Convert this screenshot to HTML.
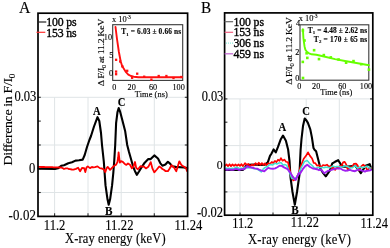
<!DOCTYPE html>
<html><head><meta charset="utf-8"><style>
html,body{margin:0;padding:0;background:#fff;width:390px;height:248px;overflow:hidden}
svg{display:block;filter:blur(0.3px);font-family:"Liberation Serif",serif}
text{stroke:#000;stroke-width:0.12px}
</style></head><body>
<svg width="390" height="248" viewBox="0 0 390 248">
<rect width="390" height="248" fill="#fff"/>
<text transform="translate(18.9,12.8) scale(1,1.08)" font-size="15.8" text-anchor="start" font-weight="normal" >A</text>
<line x1="54.6" y1="97.3" x2="54.6" y2="216" stroke="#dfe4e6" stroke-width="1"/>
<line x1="88.0" y1="97.3" x2="88.0" y2="216" stroke="#dfe4e6" stroke-width="1"/>
<line x1="121.2" y1="97.3" x2="121.2" y2="216" stroke="#dfe4e6" stroke-width="1"/>
<line x1="154.3" y1="97.3" x2="154.3" y2="216" stroke="#dfe4e6" stroke-width="1"/>
<line x1="38" y1="97.3" x2="187.6" y2="97.3" stroke="#dfe4e6" stroke-width="1"/>
<line x1="38" y1="145.0" x2="187.6" y2="145.0" stroke="#dfe4e6" stroke-width="1"/>
<line x1="38" y1="192.5" x2="187.6" y2="192.5" stroke="#dfe4e6" stroke-width="1"/>
<line x1="38" y1="97.3" x2="40.8" y2="97.3" stroke="#333" stroke-width="1.1"/>
<line x1="38" y1="121.1" x2="40.8" y2="121.1" stroke="#333" stroke-width="1.1"/>
<line x1="38" y1="145.0" x2="40.8" y2="145.0" stroke="#333" stroke-width="1.1"/>
<line x1="38" y1="168.7" x2="40.8" y2="168.7" stroke="#333" stroke-width="1.1"/>
<line x1="38" y1="192.5" x2="40.8" y2="192.5" stroke="#333" stroke-width="1.1"/>
<line x1="187.6" y1="97.3" x2="184.8" y2="97.3" stroke="#333" stroke-width="1.1"/>
<line x1="187.6" y1="145.0" x2="184.8" y2="145.0" stroke="#333" stroke-width="1.1"/>
<line x1="187.6" y1="192.5" x2="184.8" y2="192.5" stroke="#333" stroke-width="1.1"/>
<line x1="54.6" y1="216" x2="54.6" y2="213.2" stroke="#333" stroke-width="1.1"/>
<line x1="88.0" y1="216" x2="88.0" y2="213.2" stroke="#333" stroke-width="1.1"/>
<line x1="121.2" y1="216" x2="121.2" y2="213.2" stroke="#333" stroke-width="1.1"/>
<line x1="154.3" y1="216" x2="154.3" y2="213.2" stroke="#333" stroke-width="1.1"/>
<polyline points="38.5,168.8 55.0,168.9 58.0,168.3 61.2,165.8 64.0,165.2 68.3,163.2 72.0,162.3 75.5,160.6 79.0,160.2 82.7,159.6 84.7,155.0 87.0,147.0 89.4,140.0 91.0,136.0 94.0,126.5 97.5,117.2 99.3,121.0 101.0,133.0 102.0,145.0 103.8,161.5 105.5,185.2 107.5,199.3 108.7,204.8 110.1,199.3 112.1,185.2 113.3,173.0 114.3,160.0 115.2,145.0 116.1,123.2 117.5,112.0 118.7,108.1 120.2,112.0 122.1,119.2 125.2,131.3 127.2,145.0 129.0,152.0 131.0,159.0 133.4,167.5 135.0,171.2 136.8,174.8 139.0,171.5 141.0,168.1 144.7,162.7 148.3,159.1 150.7,159.1 154.3,155.4 158.0,158.5 160.4,163.3 162.4,165.7 165.4,164.5 167.9,161.8 170.3,163.9 172.1,166.3 175.7,166.9 184.2,167.5 187.2,168.1" fill="none" stroke="#000" stroke-width="2.1" stroke-linejoin="round" stroke-linecap="round" />
<polyline points="38.5,166.9 39.9,166.9 41.2,167.0 42.6,167.0 44.0,167.0 45.4,167.1 46.8,167.1 48.1,167.1 49.5,167.2 50.9,167.2 52.2,167.2 53.6,167.3 55.0,167.3 56.5,167.4 58.1,167.4 59.7,167.5 61.2,167.5 62.6,168.1 64.0,169.0 65.7,168.4 67.3,168.3 68.7,169.0 70.0,169.1 71.8,169.5 73.5,169.6 76.0,168.9 78.1,167.8 80.1,171.2 82.0,168.0 84.2,168.2 85.3,172.1 86.5,167.5 87.8,166.4 90.0,168.1 91.9,167.0 93.5,167.3 95.0,167.1 97.5,166.4 99.8,168.1 102.0,168.5 104.0,169.6 105.3,172.1 106.5,168.4 107.7,166.9 110.1,169.9 112.0,167.9 114.3,165.7 116.0,164.7 117.4,162.1 118.2,157.2 118.6,152.3 119.2,157.7 119.8,162.7 121.0,161.1 122.8,161.9 124.5,163.7 126.4,164.9 128.0,163.5 130.0,164.8 131.9,168.2 133.5,166.3 135.0,162.0 136.2,167.9 138.0,169.2 140.4,166.2 141.9,166.7 143.5,166.3 145.9,168.4 148.3,166.8 150.7,162.1 152.5,168.7 154.3,172.3 156.8,169.5 159.2,166.5 160.5,167.2 162.4,169.0 163.9,169.8 165.4,171.0 167.9,171.2 169.7,168.5 171.5,165.2 173.9,167.2 176.3,171.3 178.1,165.2 179.3,161.3 181.2,164.7 182.7,166.1 184.2,166.8 186.0,168.3 187.0,171.0" fill="none" stroke="#ff0000" stroke-width="1.8" stroke-linejoin="round" stroke-linecap="round" />
<text transform="translate(96.7,115.4) scale(1,1.1)" font-size="10.6" text-anchor="middle" font-weight="bold" >A</text>
<text transform="translate(121.5,106.0) scale(1,1.1)" font-size="10.6" text-anchor="middle" font-weight="bold" >C</text>
<text transform="translate(108.8,214.9) scale(1,1.1)" font-size="11.2" text-anchor="middle" font-weight="bold" >B</text>
<rect x="38" y="13.2" width="149.6" height="203.2" fill="none" stroke="#000" stroke-width="1.7"/>
<line x1="38" y1="22" x2="46.3" y2="22" stroke="#222" stroke-width="1.2"/>
<line x1="36.5" y1="32.3" x2="45.3" y2="32.3" stroke="#ff3030" stroke-width="1.2"/>
<text transform="translate(46.3,25.8) scale(1,1.1)" font-size="11.8" text-anchor="start" font-weight="normal" textLength="30.2" lengthAdjust="spacing" style="stroke-width:0.35px">100 ps</text>
<text transform="translate(46.3,36.8) scale(1,1.1)" font-size="11.8" text-anchor="start" font-weight="normal" textLength="30.2" lengthAdjust="spacing" style="stroke-width:0.35px">153 ns</text>
<text transform="translate(36.2,101.4) scale(1,1.1)" font-size="12.6" text-anchor="end" font-weight="normal" textLength="21.6" lengthAdjust="spacing" >0.03</text>
<text transform="translate(35.4,172.9) scale(1,1.1)" font-size="12.6" text-anchor="end" font-weight="normal" >0</text>
<text transform="translate(35.9,219.9) scale(1,1.1)" font-size="12.9" text-anchor="end" font-weight="normal" textLength="27.3" lengthAdjust="spacing" >-0.02</text>
<text transform="translate(54.6,229.7) scale(1,1.1)" font-size="12.6" text-anchor="middle" font-weight="normal" textLength="21.5" lengthAdjust="spacing" >11.2</text>
<text transform="translate(119.3,229.6) scale(1,1.1)" font-size="12.6" text-anchor="middle" font-weight="normal" textLength="28.3" lengthAdjust="spacing" >11.22</text>
<text transform="translate(188.4,229.7) scale(1,1.1)" font-size="12.6" text-anchor="middle" font-weight="normal" textLength="27.6" lengthAdjust="spacing" >11.24</text>
<text transform="translate(115.3,243.4) scale(1,1.1)" font-size="12.5" text-anchor="middle" font-weight="normal" textLength="100.5" lengthAdjust="spacing" >X-ray energy (keV)</text>
<text transform="translate(11.9,119.5) rotate(-90) scale(1.1,1)" font-size="12.6" text-anchor="middle" textLength="83.5" lengthAdjust="spacing">Difference in F/I<tspan font-size="8.5" dy="3">0</tspan></text>
<rect x="112.7" y="24.7" width="70.0" height="55.7" fill="#fff" stroke="#383838" stroke-width="1.1"/>
<polyline points="115.5,27.0 117.0,39.0 118.9,52.0 120.7,61.5 122.0,65.5 124.0,69.1 126.0,72.2 128.3,74.6 131.0,76.0 133.7,76.7 138.5,77.2 150.0,77.3 182.0,77.3" fill="none" stroke="#ff1010" stroke-width="1.9" stroke-linejoin="round" stroke-linecap="round" />
<rect x="114.95" y="58.65" width="2.3" height="2.3" fill="#ff1010"/>
<rect x="114.95" y="70.45" width="2.3" height="2.3" fill="#ff1010"/>
<rect x="114.95" y="73.05" width="2.3" height="2.3" fill="#ff1010"/>
<rect x="119.05" y="60.35" width="2.3" height="2.3" fill="#ff1010"/>
<rect x="121.15" y="65.25" width="2.3" height="2.3" fill="#ff1010"/>
<rect x="126.05" y="69.65" width="2.3" height="2.3" fill="#ff1010"/>
<rect x="130.95" y="76.65" width="2.3" height="2.3" fill="#ff1010"/>
<rect x="136.05" y="72.55" width="2.3" height="2.3" fill="#ff1010"/>
<rect x="143.05" y="75.55" width="2.3" height="2.3" fill="#ff1010"/>
<rect x="150.25" y="78.45" width="2.3" height="2.3" fill="#ff1010"/>
<rect x="157.55" y="74.85" width="2.3" height="2.3" fill="#ff1010"/>
<rect x="165.25" y="74.85" width="2.3" height="2.3" fill="#ff1010"/>
<rect x="172.35" y="76.85" width="2.3" height="2.3" fill="#ff1010"/>
<rect x="180.05" y="75.85" width="2.3" height="2.3" fill="#ff1010"/>
<text transform="translate(107.9,40.2) scale(1,1.1)" font-size="8.2" text-anchor="middle" font-weight="normal" >10</text>
<text transform="translate(111.4,58.1) scale(1,1.1)" font-size="8.2" text-anchor="middle" font-weight="normal" >5</text>
<text transform="translate(111.0,76.1) scale(1,1.1)" font-size="8.2" text-anchor="middle" font-weight="normal" >0</text>
<text transform="translate(114.4,89.5) scale(1,1.1)" font-size="8.2" text-anchor="middle" font-weight="normal" >0</text>
<text transform="translate(131.7,89.5) scale(1,1.1)" font-size="8.2" text-anchor="middle" font-weight="normal" >20</text>
<text transform="translate(153.1,89.5) scale(1,1.1)" font-size="8.2" text-anchor="middle" font-weight="normal" >60</text>
<text transform="translate(178.6,89.5) scale(1,1.1)" font-size="8.2" text-anchor="middle" font-weight="normal" >100</text>
<text transform="translate(151.3,96.8) scale(1,1.1)" font-size="8.4" text-anchor="middle" font-weight="normal" textLength="33" lengthAdjust="spacing" >Time (ns)</text>
<text transform="translate(112,22.2) scale(1,1.1)" font-size="8.4" text-anchor="start" font-weight="normal" >x 10<tspan font-size="5" dy="-3.3">-3</tspan></text>
<text transform="translate(121.3,33.9) scale(1,1.0)" font-size="7.4" text-anchor="start" font-weight="bold" textLength="59.8" lengthAdjust="spacing" >T<tspan font-size="4.8" dy="1.6">1</tspan><tspan dy="-1.6"> = 6.03 ± 0.66 ns</tspan></text>
<text transform="translate(104.4,52.4) rotate(-90) scale(1.1,1)" font-size="9.0" text-anchor="middle" textLength="61.5" lengthAdjust="spacing">Δ F/I<tspan font-size="6" dy="2">0</tspan><tspan dy="-2"> at 11.2 KeV</tspan></text>
<text transform="translate(200.9,12.8) scale(1,1.08)" font-size="15.3" text-anchor="start" font-weight="normal" >B</text>
<line x1="240.0" y1="98.9" x2="240.0" y2="215.2" stroke="#dfe4e6" stroke-width="1"/>
<line x1="273.0" y1="98.9" x2="273.0" y2="215.2" stroke="#dfe4e6" stroke-width="1"/>
<line x1="306.2" y1="98.9" x2="306.2" y2="215.2" stroke="#dfe4e6" stroke-width="1"/>
<line x1="339.3" y1="98.9" x2="339.3" y2="215.2" stroke="#dfe4e6" stroke-width="1"/>
<line x1="224.6" y1="98.9" x2="372.8" y2="98.9" stroke="#dfe4e6" stroke-width="1"/>
<line x1="224.6" y1="145.6" x2="372.8" y2="145.6" stroke="#dfe4e6" stroke-width="1"/>
<line x1="224.6" y1="191.9" x2="372.8" y2="191.9" stroke="#dfe4e6" stroke-width="1"/>
<line x1="224.6" y1="98.9" x2="227.4" y2="98.9" stroke="#333" stroke-width="1.1"/>
<line x1="224.6" y1="122.2" x2="227.4" y2="122.2" stroke="#333" stroke-width="1.1"/>
<line x1="224.6" y1="145.6" x2="227.4" y2="145.6" stroke="#333" stroke-width="1.1"/>
<line x1="224.6" y1="168.8" x2="227.4" y2="168.8" stroke="#333" stroke-width="1.1"/>
<line x1="224.6" y1="191.9" x2="227.4" y2="191.9" stroke="#333" stroke-width="1.1"/>
<line x1="372.8" y1="98.9" x2="370.0" y2="98.9" stroke="#333" stroke-width="1.1"/>
<line x1="372.8" y1="145.6" x2="370.0" y2="145.6" stroke="#333" stroke-width="1.1"/>
<line x1="372.8" y1="191.9" x2="370.0" y2="191.9" stroke="#333" stroke-width="1.1"/>
<line x1="240.0" y1="215.2" x2="240.0" y2="212.4" stroke="#333" stroke-width="1.1"/>
<line x1="273.0" y1="215.2" x2="273.0" y2="212.4" stroke="#333" stroke-width="1.1"/>
<line x1="306.2" y1="215.2" x2="306.2" y2="212.4" stroke="#333" stroke-width="1.1"/>
<line x1="339.3" y1="215.2" x2="339.3" y2="212.4" stroke="#333" stroke-width="1.1"/>
<polyline points="225.0,169.9 243.0,169.9 246.0,166.0 248.7,164.7 254.8,164.5 259.3,165.0 264.5,164.8 267.8,162.4 270.0,155.9 271.4,153.7 273.6,149.4 275.8,152.3 277.9,147.2 280.8,139.2 283.0,135.6 285.9,140.7 288.1,149.4 289.5,161.0 290.5,177.3 292.5,192.0 294.8,204.8 297.0,192.0 299.4,175.0 300.6,150.0 301.5,139.0 303.0,126.1 304.7,118.5 306.5,120.5 307.9,122.9 310.3,129.4 311.9,137.4 313.5,148.0 314.5,149.7 316.1,151.3 319.4,164.2 320.2,168.2 322.6,172.3 325.8,176.3 329.8,170.6 332.3,163.4 335.0,161.8 338.2,160.2 342.3,166.6 347.9,166.6 355.2,165.8 358.0,169.0 360.8,173.1 365.6,165.8 369.7,164.2 371.5,169.0" fill="none" stroke="#000" stroke-width="2.1" stroke-linejoin="round" stroke-linecap="round" />
<polyline points="225.0,166.0 226.5,164.3 228.0,166.2 229.5,164.2 231.0,166.1 232.5,164.4 234.0,165.8 235.5,164.5 237.0,165.8 238.5,164.5 240.0,165.8 241.5,164.2 243.0,166.1 245.0,163.1 246.7,164.9 248.3,163.9 250.0,166.4 251.8,164.5 253.7,165.4 255.5,163.2 257.3,164.7 258.8,162.7 260.3,164.9 261.9,163.1 263.4,164.8 264.9,163.3 266.4,165.2 268.2,163.3 270.0,163.9 271.8,162.0 273.3,163.1 274.9,160.9 276.4,162.1 278.0,159.7 279.5,160.8 280.9,158.1 282.6,160.7 284.3,159.6 286.0,161.8 288.0,162.3 290.8,174.8 293.2,180.4 296.0,179.0 298.9,172.5 301.0,165.6 303.7,158.7 306.0,155.8 308.0,152.3 310.0,155.9 312.1,158.5 313.7,162.9 315.3,163.2 317.2,165.7 319.1,165.2 321.0,167.2 323.0,165.0 325.0,165.5 327.0,164.7 329.0,166.8 330.5,165.9 332.0,168.5 333.5,167.3 335.0,169.9 336.7,167.5 338.3,168.3 340.0,165.8 341.6,165.8 343.1,162.4 344.7,161.8 346.3,164.7 347.9,170.3 349.9,167.2 352.0,166.9 354.0,163.8 356.0,163.6 357.6,165.3 359.2,170.5 361.2,166.3 363.2,164.7 365.2,166.2 367.3,170.4 369.3,168.0 371.3,168.2" fill="none" stroke="#ff0000" stroke-width="1.7" stroke-linejoin="round" stroke-linecap="round" />
<polyline points="225.0,168.1 226.8,168.3 228.6,168.4 230.5,168.7 232.3,168.3 234.1,168.7 235.9,167.1 237.7,167.8 239.5,168.7 241.4,168.2 243.2,168.6 245.0,167.2 247.5,167.9 250.0,167.5 252.5,168.3 255.0,168.6 258.0,169.6 261.3,171.8 263.1,169.2 265.0,167.5 267.5,166.4 270.0,164.4 272.5,165.0 275.0,163.3 277.0,164.0 279.0,163.0 281.0,162.6 282.9,165.0 284.9,164.6 286.8,165.5 289.0,170.9 291.6,178.0 294.8,179.3 298.0,174.8 301.3,167.7 304.5,161.4 307.3,160.5 310.0,163.8 312.2,165.5 314.5,168.2 316.3,168.3 318.2,167.4 320.0,167.8 322.1,167.5 324.2,167.6 326.1,167.2 328.1,167.4 330.0,167.7 332.5,166.1 335.0,166.8 337.5,166.5 340.0,166.7 342.5,167.0 345.0,165.8 347.5,166.6 350.0,168.0 352.5,167.6 355.0,165.7 357.5,168.1 360.0,167.1 362.5,167.7 365.0,167.1 367.0,166.1 369.0,168.0 371.0,168.0" fill="none" stroke="#40e0d0" stroke-width="1.6" stroke-linejoin="round" stroke-linecap="round" stroke-dasharray="2.2,0.8"/>
<polyline points="225.0,169.3 227.0,169.7 229.0,169.4 231.0,169.7 233.0,169.8 235.0,169.1 237.0,169.0 239.0,170.0 241.0,169.3 243.0,169.3 245.1,168.5 247.2,166.2 249.6,167.3 252.0,167.5 254.5,168.4 257.0,168.6 259.0,169.7 261.0,170.4 264.3,171.3 268.2,167.9 270.6,168.6 273.0,168.7 275.2,168.4 277.3,167.2 279.5,165.8 281.8,165.9 284.0,167.4 287.6,169.2 290.0,172.3 292.4,176.1 295.6,180.0 298.9,172.9 300.0,173.8 303.2,168.6 305.2,166.1 307.3,164.7 310.0,167.0 312.9,168.5 314.9,168.8 317.0,169.2 319.0,170.2 321.0,169.7 324.2,173.2 328.0,170.8 330.1,170.4 332.3,169.7 336.0,168.6 338.0,168.6 340.0,168.3 342.5,169.8 345.0,170.7 347.5,170.5 350.0,169.9 352.5,170.8 355.0,171.2 357.5,169.8 360.0,169.9 362.5,170.8 365.0,171.5 367.0,170.7 369.0,170.6 371.0,170.0" fill="none" stroke="#a020f0" stroke-width="1.9" stroke-linejoin="round" stroke-linecap="round" />
<text transform="translate(282.2,130.9) scale(1,1.1)" font-size="10.6" text-anchor="middle" font-weight="bold" >A</text>
<text transform="translate(306.0,115.1) scale(1,1.1)" font-size="10.6" text-anchor="middle" font-weight="bold" >C</text>
<text transform="translate(294.9,214.2) scale(1,1.1)" font-size="11.2" text-anchor="middle" font-weight="bold" >B</text>
<rect x="224.6" y="12.9" width="148.2" height="202.3" fill="none" stroke="#000" stroke-width="1.7"/>
<line x1="224.6" y1="21.7" x2="233.1" y2="21.7" stroke="#666" stroke-width="1.2"/>
<line x1="224.6" y1="32.3" x2="233.1" y2="32.3" stroke="#f06080" stroke-width="1.2"/>
<line x1="226" y1="43.1" x2="233.1" y2="43.1" stroke="#90f0e0" stroke-width="1.2" stroke-dasharray="1,1"/>
<line x1="224.6" y1="53.8" x2="233.1" y2="53.8" stroke="#c060d0" stroke-width="1.2"/>
<text transform="translate(233.4,25.5) scale(1,1.1)" font-size="11.8" text-anchor="start" font-weight="normal" textLength="30.6" lengthAdjust="spacing" style="stroke-width:0.35px">100 ps</text>
<text transform="translate(233.4,36.199999999999996) scale(1,1.1)" font-size="11.8" text-anchor="start" font-weight="normal" textLength="30.6" lengthAdjust="spacing" style="stroke-width:0.35px">153 ns</text>
<text transform="translate(233.4,47.4) scale(1,1.1)" font-size="11.8" text-anchor="start" font-weight="normal" textLength="30.6" lengthAdjust="spacing" style="stroke-width:0.35px">306 ns</text>
<text transform="translate(233.4,58.199999999999996) scale(1,1.1)" font-size="11.8" text-anchor="start" font-weight="normal" textLength="30.6" lengthAdjust="spacing" style="stroke-width:0.35px">459 ns</text>
<text transform="translate(223.2,101.4) scale(1,1.1)" font-size="12.4" text-anchor="end" font-weight="normal" textLength="21.5" lengthAdjust="spacing" >0.03</text>
<text transform="translate(222.6,168.7) scale(1,1.02)" font-size="11.8" text-anchor="end" font-weight="normal" >0</text>
<text transform="translate(223.1,216.8) scale(1,1.1)" font-size="12.6" text-anchor="end" font-weight="normal" textLength="26.2" lengthAdjust="spacing" >-0.02</text>
<text transform="translate(242.8,227.6) scale(1,1.1)" font-size="12.4" text-anchor="middle" font-weight="normal" textLength="21" lengthAdjust="spacing" >11.2</text>
<text transform="translate(304.9,227.4) scale(1,1.1)" font-size="12.4" text-anchor="middle" font-weight="normal" textLength="28.3" lengthAdjust="spacing" >11.22</text>
<text transform="translate(374.2,227.6) scale(1,1.1)" font-size="12.4" text-anchor="middle" font-weight="normal" textLength="27.5" lengthAdjust="spacing" >11.24</text>
<text transform="translate(299.5,243.5) scale(1,1.1)" font-size="12.6" text-anchor="middle" font-weight="normal" textLength="103" lengthAdjust="spacing" >X-ray energy (keV)</text>
<rect x="300" y="24.8" width="68.8" height="55.4" fill="#fff" stroke="#383838" stroke-width="1.1"/>
<polyline points="302.9,29.3 303.4,38.1 304.5,46.2 305.4,49.7 306.9,51.8 309.0,53.3 311.7,54.3 316.3,54.8 324.0,56.5 335.0,59.1 345.0,61.0 355.0,62.8 369.0,65.2" fill="none" stroke="#66ff00" stroke-width="1.9" stroke-linejoin="round" stroke-linecap="round" />
<rect x="301.60" y="29.20" width="2.6" height="2.6" fill="#66ff00"/>
<rect x="301.50" y="60.60" width="2.6" height="2.6" fill="#66ff00"/>
<rect x="301.70" y="76.70" width="2.6" height="2.6" fill="#66ff00"/>
<rect x="303.20" y="39.20" width="2.6" height="2.6" fill="#66ff00"/>
<rect x="305.30" y="52.00" width="2.6" height="2.6" fill="#66ff00"/>
<rect x="306.00" y="56.60" width="2.6" height="2.6" fill="#66ff00"/>
<rect x="312.80" y="48.90" width="2.6" height="2.6" fill="#66ff00"/>
<rect x="317.70" y="57.80" width="2.6" height="2.6" fill="#66ff00"/>
<rect x="322.50" y="53.80" width="2.6" height="2.6" fill="#66ff00"/>
<rect x="329.50" y="56.10" width="2.6" height="2.6" fill="#66ff00"/>
<rect x="337.30" y="58.20" width="2.6" height="2.6" fill="#66ff00"/>
<rect x="344.80" y="61.40" width="2.6" height="2.6" fill="#66ff00"/>
<rect x="352.20" y="59.80" width="2.6" height="2.6" fill="#66ff00"/>
<rect x="359.90" y="62.90" width="2.6" height="2.6" fill="#66ff00"/>
<rect x="367.60" y="68.30" width="2.6" height="2.6" fill="#66ff00"/>
<text transform="translate(298,26.4) scale(1,1.1)" font-size="8.2" text-anchor="middle" font-weight="normal" >4</text>
<text transform="translate(297.2,54.6) scale(1,1.1)" font-size="8.2" text-anchor="middle" font-weight="normal" >2</text>
<text transform="translate(297.4,81.1) scale(1,1.1)" font-size="8.2" text-anchor="middle" font-weight="normal" >0</text>
<text transform="translate(299.4,88.5) scale(1,1.1)" font-size="8.2" text-anchor="middle" font-weight="normal" >0</text>
<text transform="translate(316.2,88.5) scale(1,1.1)" font-size="8.2" text-anchor="middle" font-weight="normal" >20</text>
<text transform="translate(342.3,88.5) scale(1,1.1)" font-size="8.2" text-anchor="middle" font-weight="normal" >60</text>
<text transform="translate(366.0,88.5) scale(1,1.1)" font-size="8.2" text-anchor="middle" font-weight="normal" >100</text>
<text transform="translate(336.2,95.4) scale(1,1.1)" font-size="8.4" text-anchor="middle" font-weight="normal" textLength="32" lengthAdjust="spacing" >Time (ns)</text>
<text transform="translate(298.7,21.2) scale(1,1.1)" font-size="8.4" text-anchor="start" font-weight="normal" >x 10<tspan font-size="5" dy="-3.3">-3</tspan></text>
<text transform="translate(307.8,32.6) scale(1,1.0)" font-size="7.4" text-anchor="start" font-weight="bold" textLength="59.4" lengthAdjust="spacing" >T<tspan font-size="4.8" dy="1.6">1</tspan><tspan dy="-1.6"> = 4.48 ± 2.62 ns</tspan></text>
<text transform="translate(313.8,41.8) scale(1,1.0)" font-size="7.4" text-anchor="start" font-weight="bold" textLength="53.4" lengthAdjust="spacing" >T<tspan font-size="4.8" dy="1.6">2</tspan><tspan dy="-1.6"> = 170 ± 65 ns</tspan></text>
<text transform="translate(291.6,50.9) rotate(-90) scale(1.1,1)" font-size="9.0" text-anchor="middle" textLength="61.5" lengthAdjust="spacing">Δ F/I<tspan font-size="6" dy="2">0</tspan><tspan dy="-2"> at 11.2 KeV</tspan></text>
</svg></body></html>
